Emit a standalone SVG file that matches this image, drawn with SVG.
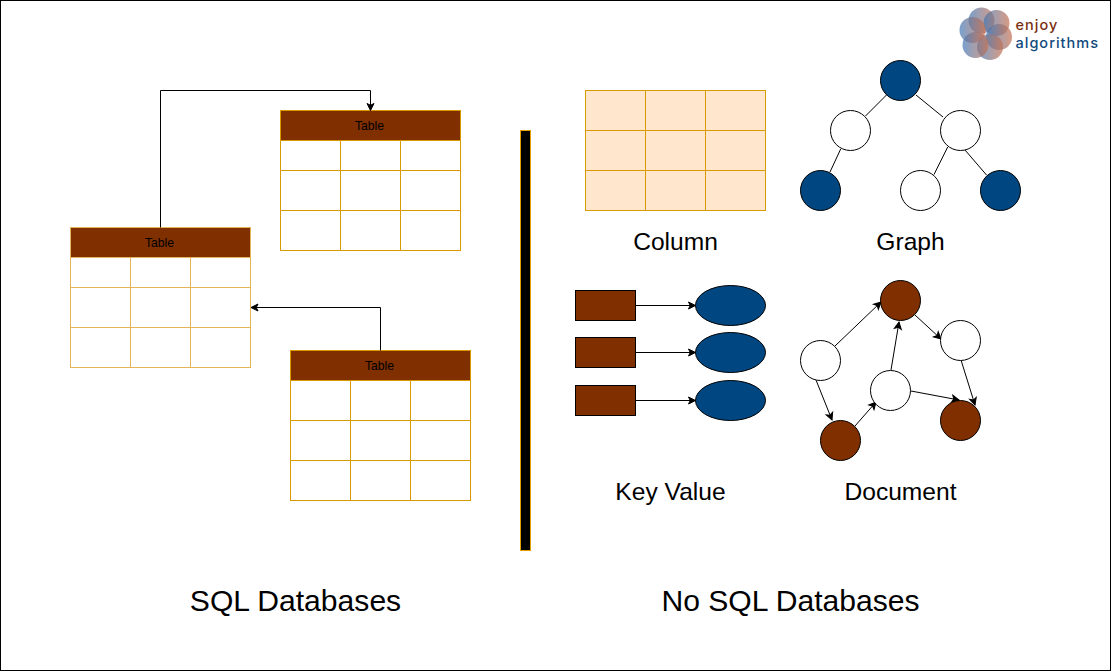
<svg xmlns="http://www.w3.org/2000/svg" width="1111" height="671" viewBox="0 0 1111 671">
<style>
text{font-family:"Liberation Sans",Arial,sans-serif;text-anchor:middle;fill:#000}
.big{font-size:30.1px}.mid{font-size:24.6px}.small{font-size:12.2px}
.grid{fill:#fff;stroke:#d79b00;stroke-width:1}
.gridline{fill:none;stroke:#d79b00;stroke-width:1}
.head{fill:#7f2f00;stroke:#d79b00;stroke-width:1}
.col{fill:#ffe6cc;stroke:#d79b00;stroke-width:1}
.soft{stroke:#e3b458}
.edge{fill:none;stroke:#000;stroke-width:1;marker-end:url(#arrow)}
.line{fill:none;stroke:#000;stroke-width:1}
.blue{fill:#004680;stroke:#000;stroke-width:1}
.brown{fill:#7f2f00;stroke:#000;stroke-width:1}
.white{fill:#fff;stroke:#000;stroke-width:1}
.petal{stroke:none;fill:url(#pg);fill-opacity:.7}
text.logo{font-family:Inter,"Liberation Sans",sans-serif;font-size:14.5px;font-weight:500;text-anchor:start;letter-spacing:1px}
</style>
<defs>
<marker id="arrow" markerUnits="userSpaceOnUse" markerWidth="9" markerHeight="9" refX="8" refY="4.5" orient="auto" overflow="visible">
<path d="M1 1 L8 4.5 L1 8 L2.75 4.5 Z" fill="#000" stroke="#000" stroke-width="1"/>
</marker>
<linearGradient id="pg" x1="0" y1="0.5" x2="1" y2="0.5">
<stop offset="0" stop-color="#3f78b8"/><stop offset="1" stop-color="#c8704f"/>
</linearGradient>
</defs>
<rect x="0.5" y="0.5" width="1110" height="670" fill="#fff" stroke="#000"/>

<g id="logo">
<circle class="petal" cx="981.5" cy="20.5" r="13"/>
<circle class="petal" cx="996.5" cy="23" r="13"/>
<circle class="petal" cx="999" cy="37" r="13"/>
<circle class="petal" cx="990" cy="47" r="13"/>
<circle class="petal" cx="975.5" cy="45" r="13"/>
<circle class="petal" cx="972.5" cy="30" r="13"/>
<text class="logo" x="1015.5" y="30" style="fill:#7a2e10">enjoy</text>
<text class="logo" x="1015.5" y="47.5" style="fill:#0f4a7d">algorithms</text>
</g>

<g id="table-top">
<rect class="grid" x="280.5" y="140.5" width="180" height="110"/>
<path class="gridline" d="M340.5 140.5V250.5M400.5 140.5V250.5M280.5 170.5H460.5M280.5 210.5H460.5"/>
<rect class="head" x="280.5" y="110.5" width="180" height="30"/>
<text class="small" x="369.5" y="130">Table</text>
</g>
<g id="table-left">
<rect class="grid soft" x="70.5" y="257.5" width="180" height="110"/>
<path class="gridline soft" d="M130.5 257.5V367.5M190.5 257.5V367.5M70.5 287.5H250.5M70.5 327.5H250.5"/>
<rect class="head soft" x="70.5" y="227.5" width="180" height="30"/>
<text class="small" x="159.5" y="247">Table</text>
</g>
<g id="table-bottom">
<rect class="grid" x="290.5" y="380.5" width="180" height="120"/>
<path class="gridline" d="M350.5 380.5V500.5M410.5 380.5V500.5M290.5 420.5H470.5M290.5 460.5H470.5"/>
<rect class="head" x="290.5" y="350.5" width="180" height="30"/>
<text class="small" x="379.5" y="370">Table</text>
</g>

<g id="divider"><rect x="520.5" y="130.5" width="10" height="420" fill="#000" stroke="#e3a000"/></g>

<g id="column-store">
<rect class="col" x="585.5" y="90.5" width="180" height="120"/>
<path class="gridline" d="M645.5 90.5V210.5M705.5 90.5V210.5M585.5 130.5H765.5M585.5 170.5H765.5"/>
<text class="mid" x="675.5" y="250">Column</text>
</g>

<g id="connectors">
<path class="edge" d="M160.5 227.5V90.5H370.5V110.5"/>
<path class="edge" d="M380.5 350.5V307.5H251"/>
<path class="line" d="M886.5 95L865.5 116M916 95L943 117M840.7 149L830 172M947.7 147L934 174.5M965 150L986.5 175"/>
<path class="edge" d="M635.5 305.5H695.5"/>
<path class="edge" d="M635.5 352.5H695.5"/>
<path class="edge" d="M635.5 400.5H695.5"/>
<path class="edge" d="M835 346L881 302"/>
<path class="edge" d="M816 380L832 420"/>
<path class="edge" d="M855 426L876 402"/>
<path class="edge" d="M891 370L899 322"/>
<path class="edge" d="M915 315L941 339"/>
<path class="edge" d="M911 391L959 400"/>
<path class="edge" d="M961 360L975 405"/>
</g>

<g id="graph">
<circle class="blue" cx="900.5" cy="80.5" r="20"/>
<circle class="white" cx="850.5" cy="130.5" r="20"/>
<circle class="white" cx="960.5" cy="130.5" r="20"/>
<circle class="blue" cx="820.5" cy="190.5" r="20"/>
<circle class="white" cx="920.5" cy="190.5" r="20"/>
<circle class="blue" cx="1000.5" cy="190.5" r="20"/>
<text class="mid" x="910.5" y="250">Graph</text>
</g>

<g id="key-value">
<rect class="brown" x="575.5" y="290.5" width="60" height="30"/>
<rect class="brown" x="575.5" y="337.5" width="60" height="30"/>
<rect class="brown" x="575.5" y="385.5" width="60" height="30"/>
<ellipse class="blue" cx="730.5" cy="305.5" rx="35" ry="20"/>
<ellipse class="blue" cx="730.5" cy="352.5" rx="35" ry="20"/>
<ellipse class="blue" cx="730.5" cy="400.5" rx="35" ry="20"/>
<text class="mid" x="670.5" y="500">Key Value</text>
</g>

<g id="document">
<circle class="brown" cx="900.5" cy="300.5" r="20"/>
<circle class="white" cx="960.5" cy="340.5" r="20"/>
<circle class="white" cx="820.5" cy="360.5" r="20"/>
<circle class="white" cx="890.5" cy="390.5" r="20"/>
<circle class="brown" cx="840.5" cy="440.5" r="20"/>
<circle class="brown" cx="960.5" cy="420.5" r="20"/>
<text class="mid" x="900.5" y="500">Document</text>
</g>

<g id="labels">
<text class="big" x="295.5" y="611">SQL Databases</text>
<text class="big" x="790.5" y="611">No SQL Databases</text>
</g>
</svg>
